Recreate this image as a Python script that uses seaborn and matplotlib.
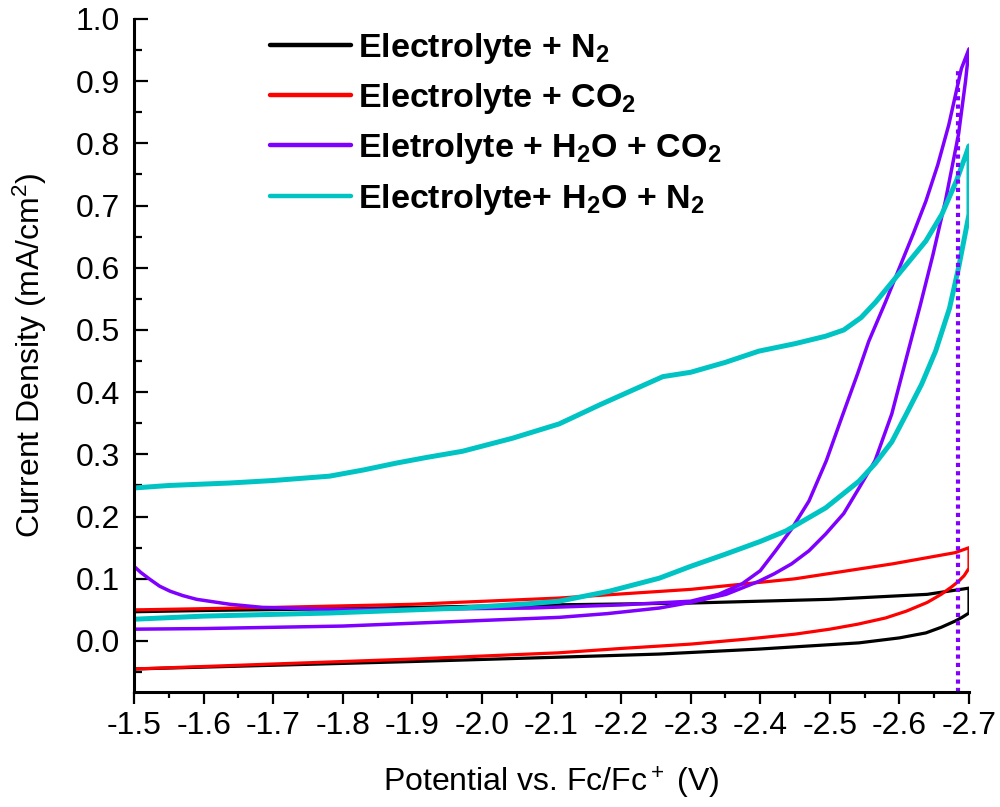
import pandas as pd
import seaborn as sns
import matplotlib.pyplot as plt
from matplotlib.ticker import MultipleLocator, FormatStrFormatter

# cyclic voltammograms: forward sweep -1.5 -> -2.7 V, then the return sweep
n2_fwd_v = [-1.50, -1.60, -1.80, -2.00, -2.10, -2.30, -2.50, -2.64, -2.70]
n2_fwd_j = [0.047, 0.049, 0.052, 0.056, 0.058, 0.061, 0.067, 0.075, 0.085]
n2_rev_v = [-2.70, -2.69, -2.68, -2.66, -2.638, -2.60, -2.542, -2.47, -2.398, -2.255, -2.111,
            -1.90, -1.70, -1.50]
n2_rev_j = [0.045, 0.038, 0.032, 0.022, 0.013, 0.005, -0.003, -0.008, -0.013, -0.021, -0.026,
            -0.033, -0.039, -0.045]

co2_fwd_v = [-1.50, -1.70, -1.90, -2.11, -2.30, -2.45, -2.59, -2.68, -2.70]
co2_fwd_j = [0.050, 0.054, 0.059, 0.069, 0.083, 0.100, 0.124, 0.142, 0.150]
co2_rev_v = [-2.70, -2.693, -2.685, -2.675, -2.66, -2.64, -2.61, -2.58, -2.54, -2.50, -2.45,
             -2.38, -2.30, -2.20, -2.11, -1.90, -1.70, -1.50]
co2_rev_j = [0.117, 0.105, 0.096, 0.087, 0.075, 0.062, 0.048, 0.037, 0.027, 0.019, 0.011,
             0.003, -0.005, -0.012, -0.019, -0.029, -0.037, -0.045]

h2o_co2_fwd_v = [-1.500, -1.51, -1.523, -1.537, -1.552, -1.57, -1.590, -1.638, -1.685, -1.78, -1.90,
                 -2.07, -2.20, -2.30, -2.34, -2.374, -2.40, -2.422, -2.445, -2.47, -2.495, -2.517,
                 -2.54, -2.556, -2.58, -2.60, -2.62, -2.638, -2.655, -2.671, -2.689, -2.70]
h2o_co2_fwd_j = [0.120, 0.110, 0.099, 0.088, 0.080, 0.073, 0.067, 0.059, 0.054, 0.051, 0.051,
                 0.053, 0.058, 0.064, 0.075, 0.092, 0.113, 0.145, 0.180, 0.225, 0.290, 0.359,
                 0.430, 0.482, 0.545, 0.600, 0.655, 0.707, 0.765, 0.830, 0.920, 0.952]
h2o_co2_rev_v = [-2.70, -2.695, -2.685, -2.666, -2.648, -2.63, -2.61, -2.589, -2.565, -2.542, -2.52,
                 -2.494, -2.47, -2.445, -2.42, -2.398, -2.351, -2.30, -2.255, -2.18, -2.111, -2.00,
                 -1.80, -1.60, -1.50]
h2o_co2_rev_j = [0.952, 0.900, 0.815, 0.707, 0.620, 0.540, 0.455, 0.365, 0.290, 0.246, 0.205,
                 0.172, 0.145, 0.124, 0.108, 0.096, 0.075, 0.062, 0.053, 0.044, 0.038, 0.033,
                 0.024, 0.020, 0.019]

h2o_n2_fwd_v = [-1.500, -1.55, -1.638, -1.70, -1.781, -1.83, -1.877, -1.92, -1.972, -2.044, -2.111,
                -2.17, -2.23, -2.26, -2.30, -2.35, -2.398, -2.45, -2.494, -2.52, -2.545, -2.566,
                -2.599, -2.638, -2.661, -2.682, -2.695, -2.70]
h2o_n2_fwd_j = [0.246, 0.250, 0.254, 0.258, 0.265, 0.275, 0.286, 0.295, 0.305, 0.326, 0.349,
                0.380, 0.410, 0.425, 0.432, 0.448, 0.466, 0.478, 0.490, 0.500, 0.520, 0.545,
                0.590, 0.643, 0.686, 0.740, 0.780, 0.796]
h2o_n2_rev_v = [-2.70, -2.692, -2.685, -2.672, -2.652, -2.632, -2.61, -2.589, -2.565, -2.542, -2.494,
                -2.437, -2.40, -2.351, -2.30, -2.255, -2.183, -2.111, -2.068, -1.972, -1.781, -1.60,
                -1.50]
h2o_n2_rev_j = [0.686, 0.640, 0.600, 0.535, 0.466, 0.413, 0.365, 0.320, 0.285, 0.257, 0.214,
                0.177, 0.160, 0.140, 0.120, 0.101, 0.080, 0.064, 0.060, 0.053, 0.045, 0.040,
                0.035]

labels = [r"Electrolyte + N$_\mathbf{2}$",
          r"Electrolyte + CO$_\mathbf{2}$",
          r"Eletrolyte + H$_\mathbf{2}$O + CO$_\mathbf{2}$",
          r"Electrolyte+ H$_\mathbf{2}$O + N$_\mathbf{2}$"]
colors = ['#000000', '#ff0000', '#7f00ff', '#00c4c4']

# onset marker (dotted line)
onset_v = -2.684
onset_top = 0.92


def sweep(name, fv, fj, rv, rj):
    v = fv + rv
    return pd.DataFrame({'potential': v, 'current': fj + rj, 'sample': name, 'step': range(len(v))})


df = pd.concat([
    sweep(labels[0], n2_fwd_v, n2_fwd_j, n2_rev_v, n2_rev_j),
    sweep(labels[1], co2_fwd_v, co2_fwd_j, co2_rev_v, co2_rev_j),
    sweep(labels[2], h2o_co2_fwd_v, h2o_co2_fwd_j, h2o_co2_rev_v, h2o_co2_rev_j),
    sweep(labels[3], h2o_n2_fwd_v, h2o_n2_fwd_j, h2o_n2_rev_v, h2o_n2_rev_j),
])

sns.set_theme(style='ticks')
plt.rcParams['font.family'] = ['Liberation Sans', 'DejaVu Sans']
plt.rcParams['mathtext.fontset'] = 'custom'
plt.rcParams['mathtext.rm'] = 'Liberation Sans'
plt.rcParams['mathtext.bf'] = 'Liberation Sans:bold'
plt.rcParams['mathtext.it'] = 'Liberation Sans:italic'
plt.rcParams['axes.unicode_minus'] = False
for k in ['text.color', 'axes.labelcolor', 'xtick.color', 'ytick.color', 'axes.edgecolor']:
    plt.rcParams[k] = 'black'

fig = plt.figure(figsize=(10, 8.07), dpi=100)
ax = fig.add_axes([0.134, 0.1425, 0.835, 0.834])

widths = [2.3, 2.3, 2.5, 3.6]
for name, c, lw in zip(labels, colors, widths):
    sns.lineplot(data=df[df['sample'] == name], x='potential', y='current', sort=False,
                 estimator=None, color=c, lw=lw, ax=ax, label=name)

ax.plot([onset_v, onset_v], [-0.082, onset_top], color=colors[2], lw=3,
        linestyle=(0, (1, 1)), dash_capstyle='butt')

ax.set_xlim(-1.5, -2.7)
ax.set_ylim(-0.082, 1.0)
ax.xaxis.set_major_locator(MultipleLocator(0.1))
ax.xaxis.set_minor_locator(MultipleLocator(0.05))
ax.yaxis.set_major_locator(MultipleLocator(0.1))
ax.yaxis.set_minor_locator(MultipleLocator(0.05))
ax.xaxis.set_major_formatter(FormatStrFormatter('%.1f'))
ax.yaxis.set_major_formatter(FormatStrFormatter('%.1f'))

sns.despine(ax=ax)
for s in ['left', 'bottom']:
    ax.spines[s].set_linewidth(2.2)
ax.tick_params(axis='x', which='major', direction='out', length=8.6, width=1.6, labelsize=23, pad=5)
ax.tick_params(axis='x', which='minor', direction='out', length=4.3, width=1.6)
ax.tick_params(axis='y', which='major', direction='in', length=10, width=1.6, labelsize=23, pad=10)
ax.tick_params(axis='y', which='minor', direction='in', length=5.5, width=1.6)

ax.set_xlabel(r"Potential vs. Fc/Fc$^+$ (V)", fontsize=23, labelpad=17)
ax.set_ylabel(r"Current Density (mA/cm$^2$)", fontsize=23, labelpad=19)

leg = ax.legend(loc='upper left', bbox_to_anchor=(0.142, 1.008), frameon=False,
                prop={'weight': 'bold', 'size': 24.5}, handlelength=2.4, handletextpad=0.2,
                labelspacing=0.45, borderpad=0)
for h in leg.get_lines():
    h.set_linewidth(3.2)

fig.savefig('out.png', dpi=100)
